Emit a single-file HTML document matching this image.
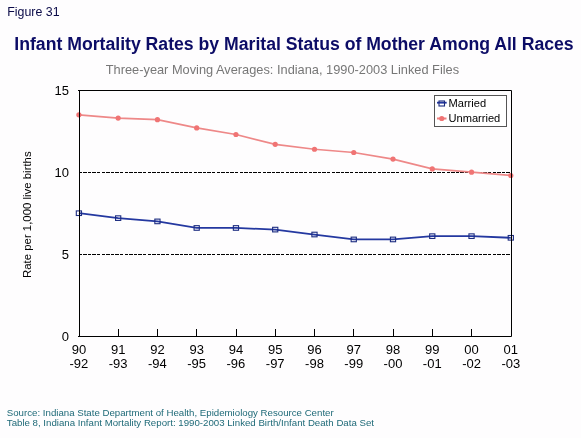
<!DOCTYPE html>
<html><head><meta charset="utf-8"><style>
html,body{margin:0;padding:0;background:#FEFDFE;width:581px;height:438px;overflow:hidden}
svg{display:block;will-change:transform}
text{font-family:"Liberation Sans",sans-serif}
.ax{font-size:13px;fill:#000}
.yt{font-size:11.4px;fill:#000}
.lg{font-size:11.1px;fill:#000}
.fig{font-size:12.4px;fill:#0A0A48}
.title{font-size:17.65px;font-weight:bold;fill:#0C0C66}
.sub{font-size:12.8px;fill:#777}
.src{font-size:9.68px;fill:#1F6A78}
</style></head><body>
<svg width="581" height="438" viewBox="0 0 581 438">
<line x1="80" y1="254.5" x2="511" y2="254.5" stroke="#000" stroke-width="1" stroke-dasharray="3.4 1.2" stroke-dashoffset="1.4" shape-rendering="crispEdges"/>
<line x1="80" y1="172.5" x2="511" y2="172.5" stroke="#000" stroke-width="1" stroke-dasharray="3.4 1.2" stroke-dashoffset="1.4" shape-rendering="crispEdges"/>
<line x1="118.5" y1="329" x2="118.5" y2="336" stroke="#000" stroke-width="1"/>
<line x1="157.5" y1="329" x2="157.5" y2="336" stroke="#000" stroke-width="1"/>
<line x1="196.5" y1="329" x2="196.5" y2="336" stroke="#000" stroke-width="1"/>
<line x1="236.5" y1="329" x2="236.5" y2="336" stroke="#000" stroke-width="1"/>
<line x1="275.5" y1="329" x2="275.5" y2="336" stroke="#000" stroke-width="1"/>
<line x1="314.5" y1="329" x2="314.5" y2="336" stroke="#000" stroke-width="1"/>
<line x1="353.5" y1="329" x2="353.5" y2="336" stroke="#000" stroke-width="1"/>
<line x1="393.5" y1="329" x2="393.5" y2="336" stroke="#000" stroke-width="1"/>
<line x1="432.5" y1="329" x2="432.5" y2="336" stroke="#000" stroke-width="1"/>
<line x1="471.5" y1="329" x2="471.5" y2="336" stroke="#000" stroke-width="1"/>
<polyline points="78.90,114.80 118.16,118.08 157.43,119.72 196.69,127.92 235.95,134.48 275.22,144.32 314.48,149.24 353.75,152.52 393.01,159.08 432.27,168.92 471.54,172.20 510.80,175.48" fill="none" stroke="#EE8888" stroke-width="1.7"/>
<circle cx="78.90" cy="114.80" r="2.6" fill="#F07474"/>
<circle cx="118.16" cy="118.08" r="2.6" fill="#F07474"/>
<circle cx="157.43" cy="119.72" r="2.6" fill="#F07474"/>
<circle cx="196.69" cy="127.92" r="2.6" fill="#F07474"/>
<circle cx="235.95" cy="134.48" r="2.6" fill="#F07474"/>
<circle cx="275.22" cy="144.32" r="2.6" fill="#F07474"/>
<circle cx="314.48" cy="149.24" r="2.6" fill="#F07474"/>
<circle cx="353.75" cy="152.52" r="2.6" fill="#F07474"/>
<circle cx="393.01" cy="159.08" r="2.6" fill="#F07474"/>
<circle cx="432.27" cy="168.92" r="2.6" fill="#F07474"/>
<circle cx="471.54" cy="172.20" r="2.6" fill="#F07474"/>
<circle cx="510.80" cy="175.48" r="2.6" fill="#F07474"/>
<polyline points="78.90,213.20 118.16,218.12 157.43,221.40 196.69,227.96 235.95,227.96 275.22,229.60 314.48,234.52 353.75,239.44 393.01,239.44 432.27,236.16 471.54,236.16 510.80,237.80" fill="none" stroke="#2438A0" stroke-width="1.8"/>
<rect x="76.30" y="210.90" width="5.2" height="4.6" fill="none" stroke="#1C2C80" stroke-width="1.1"/>
<rect x="115.56" y="215.82" width="5.2" height="4.6" fill="none" stroke="#1C2C80" stroke-width="1.1"/>
<rect x="154.83" y="219.10" width="5.2" height="4.6" fill="none" stroke="#1C2C80" stroke-width="1.1"/>
<rect x="194.09" y="225.66" width="5.2" height="4.6" fill="none" stroke="#1C2C80" stroke-width="1.1"/>
<rect x="233.35" y="225.66" width="5.2" height="4.6" fill="none" stroke="#1C2C80" stroke-width="1.1"/>
<rect x="272.62" y="227.30" width="5.2" height="4.6" fill="none" stroke="#1C2C80" stroke-width="1.1"/>
<rect x="311.88" y="232.22" width="5.2" height="4.6" fill="none" stroke="#1C2C80" stroke-width="1.1"/>
<rect x="351.15" y="237.14" width="5.2" height="4.6" fill="none" stroke="#1C2C80" stroke-width="1.1"/>
<rect x="390.41" y="237.14" width="5.2" height="4.6" fill="none" stroke="#1C2C80" stroke-width="1.1"/>
<rect x="429.67" y="233.86" width="5.2" height="4.6" fill="none" stroke="#1C2C80" stroke-width="1.1"/>
<rect x="468.94" y="233.86" width="5.2" height="4.6" fill="none" stroke="#1C2C80" stroke-width="1.1"/>
<rect x="508.20" y="235.50" width="5.2" height="4.6" fill="none" stroke="#1C2C80" stroke-width="1.1"/>
<path d="M78 90.5 H511.5 V336.5 H78 M79.5 90 V337" fill="none" stroke="#000" stroke-width="1"/>
<rect x="434.5" y="95.5" width="72" height="31" fill="#fff" stroke="#555" stroke-width="1"/>
<line x1="437" y1="102.7" x2="446.7" y2="102.7" stroke="#2438A0" stroke-width="1.8"/>
<rect x="439" y="101" width="5.5" height="5" fill="none" stroke="#1C2C80" stroke-width="1.1"/>
<line x1="437" y1="118.5" x2="446.5" y2="118.5" stroke="#EF8080" stroke-width="2"/>
<circle cx="441.75" cy="118.5" r="2.6" fill="#F07474"/>
<g transform="rotate(0.0005)">
<text x="69" y="340.9" text-anchor="end" class="ax">0</text>
<text x="69" y="258.9" text-anchor="end" class="ax">5</text>
<text x="69" y="176.9" text-anchor="end" class="ax">10</text>
<text x="69" y="94.9" text-anchor="end" class="ax">15</text>
<text x="78.90" y="353.7" text-anchor="middle" class="ax">90</text>
<text x="78.90" y="367.6" text-anchor="middle" class="ax">-92</text>
<text x="118.16" y="353.7" text-anchor="middle" class="ax">91</text>
<text x="118.16" y="367.6" text-anchor="middle" class="ax">-93</text>
<text x="157.43" y="353.7" text-anchor="middle" class="ax">92</text>
<text x="157.43" y="367.6" text-anchor="middle" class="ax">-94</text>
<text x="196.69" y="353.7" text-anchor="middle" class="ax">93</text>
<text x="196.69" y="367.6" text-anchor="middle" class="ax">-95</text>
<text x="235.95" y="353.7" text-anchor="middle" class="ax">94</text>
<text x="235.95" y="367.6" text-anchor="middle" class="ax">-96</text>
<text x="275.22" y="353.7" text-anchor="middle" class="ax">95</text>
<text x="275.22" y="367.6" text-anchor="middle" class="ax">-97</text>
<text x="314.48" y="353.7" text-anchor="middle" class="ax">96</text>
<text x="314.48" y="367.6" text-anchor="middle" class="ax">-98</text>
<text x="353.75" y="353.7" text-anchor="middle" class="ax">97</text>
<text x="353.75" y="367.6" text-anchor="middle" class="ax">-99</text>
<text x="393.01" y="353.7" text-anchor="middle" class="ax">98</text>
<text x="393.01" y="367.6" text-anchor="middle" class="ax">-00</text>
<text x="432.27" y="353.7" text-anchor="middle" class="ax">99</text>
<text x="432.27" y="367.6" text-anchor="middle" class="ax">-01</text>
<text x="471.54" y="353.7" text-anchor="middle" class="ax">00</text>
<text x="471.54" y="367.6" text-anchor="middle" class="ax">-02</text>
<text x="510.80" y="353.7" text-anchor="middle" class="ax">01</text>
<text x="510.80" y="367.6" text-anchor="middle" class="ax">-03</text>
<text x="448.5" y="106.8" class="lg">Married</text>
<text x="448.5" y="122.4" class="lg">Unmarried</text>
<text x="7.2" y="15.3" class="fig" transform="matrix(1,0,0,1.075,0,0)">Figure 31</text>
<text x="14.3" y="49.6" class="title">Infant Mortality Rates by Marital Status of Mother Among All Races</text>
<text x="105.8" y="73.8" class="sub">Three-year Moving Averages: Indiana, 1990-2003 Linked Files</text>
<text x="6.8" y="415.8" class="src">Source: Indiana State Department of Health, Epidemiology Resource Center</text>
<text x="6.8" y="426.4" class="src">Table 8, Indiana Infant Mortality Report: 1990-2003 Linked Birth/Infant Death Data Set</text>
</g>
<text transform="translate(31.2,214.7) rotate(-89.9995)" text-anchor="middle" class="yt">Rate per 1,000 live births</text>
</svg>
</body></html>
